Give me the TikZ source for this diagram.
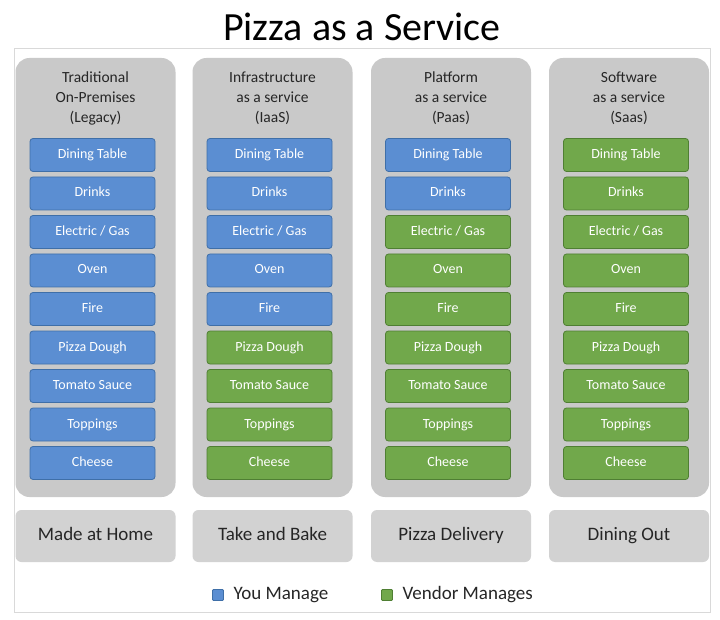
\documentclass[tikz,border=0pt]{standalone}
\usepackage{fontspec}
\setmainfont{Carlito}
\definecolor{bl}{HTML}{5B8ED2}
\definecolor{blb}{HTML}{3F6FA8}
\definecolor{gr}{HTML}{71A84B}
\definecolor{grb}{HTML}{4F7F33}
\definecolor{pan}{HTML}{C9C9C9}
\definecolor{bot}{HTML}{D2D2D2}
\begin{document}
\begin{tikzpicture}[x=1pt,y=-1pt,
  panel/.style={fill=pan,draw=none,rounded corners=14pt},
  item/.style={draw,line width=0.8pt,rounded corners=3pt,minimum width=125pt,minimum height=33pt,text=white,font=\fontsize{14}{14}\selectfont,inner sep=0pt,text height=9.5pt,text depth=2.5pt},
  you/.style={item,fill=bl,draw=blb},
  ven/.style={item,fill=gr,draw=grb},
  head/.style={align=center,font=\fontsize{15.5}{20}\selectfont,text=black!85},
  botbox/.style={fill=bot,rounded corners=6pt,minimum width=160pt,minimum height=52pt,inner sep=0pt,font=\fontsize{19}{19}\selectfont,text=black!85,text height=13pt,text depth=4pt},
  leg/.style={font=\fontsize{19}{19}\selectfont,text=black!85,anchor=west}]
\useasboundingbox (0,0) rectangle (720,620);
\fill[white] (0,0) rectangle (720,620);
\draw[black!15,fill=white] (14,48) rectangle (710,612);
\node[font=\fontsize{40}{40}\selectfont] (title) at (362,27) {Pizza as a Service};
\def\items{{"Dining Table","Drinks","Electric / Gas","Oven","Fire","Pizza Dough","Tomato Sauce","Toppings","Cheese"}}
\foreach \c/\cx/\nb/\hd/\bt in {1/95.5/9/{Traditional\\On-Premises\\(Legacy)}/Made at Home,
  2/272.5/5/{Infrastructure\\as a service\\(IaaS)}/Take and Bake,
  3/451/2/{Platform\\as a service\\(Paas)}/Pizza Delivery,
  4/629/0/{Software\\as a service\\(Saas)}/Dining Out}{
  \fill[panel] (\cx-80,58) rectangle (\cx+80,497);
  \node[head] (h\c) at (\cx,98) {\hd};
  \foreach \i in {1,...,9}{
    \pgfmathsetmacro\yy{155+(\i-1)*38.5}
    \pgfmathparse{\items[\i-1]}\let\lab\pgfmathresult
    \ifnum\i>\nb\relax
      \node[ven] (b\c-\i) at (\cx-3,\yy) {\lab};
    \else
      \node[you] (b\c-\i) at (\cx-3,\yy) {\lab};
    \fi
  }
  \node[botbox] (f\c) at (\cx,536) {\bt};
}
\node[you,minimum width=11pt,minimum height=11pt,rounded corners=1pt,text height=0pt,text depth=0pt] (ly) at (218,595) {};
\node[leg] (lyt) at (230,595) {You Manage};
\node[ven,minimum width=11pt,minimum height=11pt,rounded corners=1pt,text height=0pt,text depth=0pt] (lv) at (387,595) {};
\node[leg] (lvt) at (399,595) {Vendor Manages};
\end{tikzpicture}
\end{document}
